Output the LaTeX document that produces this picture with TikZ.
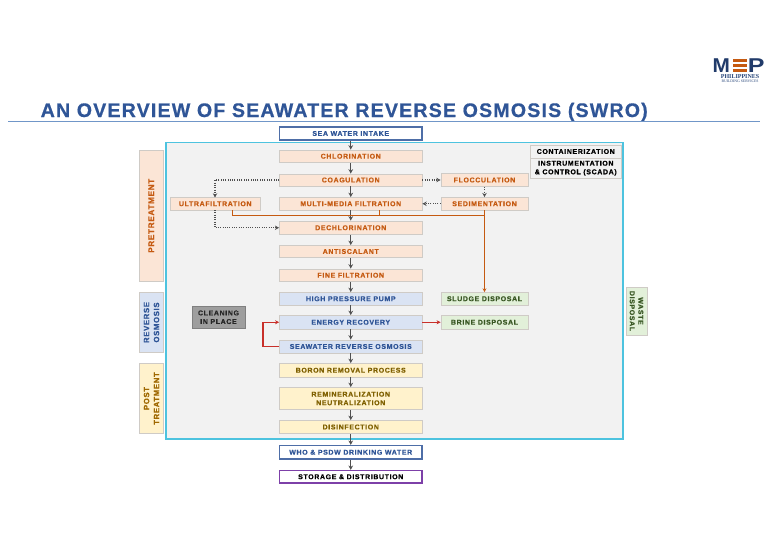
\documentclass[tikz,border=0pt]{standalone}
\usepackage{fontspec}
\setmainfont{Liberation Sans}
\newfontfamily\boxfont[LetterSpace=9,BoldFeatures={FakeBold=0.6}]{Liberation Sans}
\newfontfamily\titlefont[LetterSpace=6,BoldFeatures={FakeBold=0.6}]{Liberation Sans}
\newfontfamily\logofont{Liberation Serif}
\usetikzlibrary{arrows.meta,calc}
\definecolor{cOrange}{HTML}{C55A11}
\definecolor{cBlue}{HTML}{2F5597}
\definecolor{cGold}{HTML}{7F6000}
\definecolor{cGreen}{HTML}{385723}
\definecolor{cPurple}{HTML}{7D40A8}
\definecolor{cRule}{HTML}{7096C8}
\definecolor{fOrange}{HTML}{FBE5D6}
\definecolor{fBlue}{HTML}{DAE3F3}
\definecolor{fGold}{HTML}{FFF2CC}
\definecolor{fGreen}{HTML}{E2F0D9}
\definecolor{edgeG}{HTML}{CFCBC6}
\definecolor{cyanB}{HTML}{4DC3DF}
\definecolor{panel}{HTML}{F2F2F2}
\definecolor{arrowG}{HTML}{505050}
\definecolor{redL}{HTML}{C8302A}
\tikzset{
  box/.style={draw=edgeG,line width=0.8pt,inner sep=0pt,align=center,
    font=\boxfont\bfseries\fontsize{7}{8.6}\selectfont},
  orangebox/.style={box,fill=fOrange,text=cOrange},
  bluebox/.style={box,fill=fBlue,text=cBlue},
  goldbox/.style={box,fill=fGold,text=cGold},
  greenbox/.style={box,fill=fGreen,text=cGreen},
  plainbox/.style={box,fill=panel,text=black},
  graybox/.style={box,fill=black!38,draw=black!50,text=black!85},
  bluewhite/.style={box,fill=white,draw=cBlue!85,line width=1.2pt,text=cBlue},
  purplewhite/.style={box,fill=white,draw=cPurple,line width=1.2pt,text=black},
  stagebig/.style={font=\boxfont\bfseries\fontsize{8.1}{10}\selectfont},
  stagemid/.style={font=\boxfont\bfseries\fontsize{7.7}{10}\selectfont},
  flow/.style={draw=arrowG,line width=1.4pt,-{Stealth[length=4.4pt,width=4.6pt]}},
  dots/.style={draw=arrowG,line width=1.1pt,dash pattern=on 1pt off 1.3pt},
  dotarrow/.style={dots,-{Stealth[length=4.2pt,width=4.4pt]}},
  orangeline/.style={draw=cOrange,line width=1pt},
  orangearrow/.style={orangeline,-{Stealth[length=3.8pt,width=3.8pt]}},
  redarrow/.style={draw=redL,line width=1.2pt,-{Stealth[length=4pt,width=4pt]}},
  logoM/.style={text=cBlue!70!black,font=\bfseries\fontsize{20}{20}\selectfont,inner sep=0pt},
  logoT/.style={text=cBlue!80!black,inner sep=0pt},
  titlestyle/.style={text=cBlue,inner sep=0pt,anchor=base west,font=\titlefont\bfseries\fontsize{19.6}{21}\selectfont},
}
% name, x1, y1, x2, y2, style, text
\newcommand{\bx}[7]{%
  \node[#6,minimum width=#4pt-#2pt,minimum height=#5pt-#3pt] (#1) at ({(#2+#4)/2},{(#3+#5)/2}) {#7};}
\begin{document}
\begin{tikzpicture}[x=1pt,y=-1pt]
\useasboundingbox (0,0) rectangle (768,543);
\fill[white] (0,0) rectangle (768,543);
% title
\node[titlestyle] (title) at (40.5,117) {AN OVERVIEW OF SEAWATER REVERSE OSMOSIS (SWRO)};
\coordinate (ruleL) at (8,121);
\coordinate (ruleR) at (760,121);
\draw[cRule,line width=1pt] (ruleL) -- (ruleR);
% logo
\node[logoM,anchor=base west,xscale=1.04] (logoem) at (712.5,72.5) {M};
\fill[cOrange] (733,59) rectangle (747,62);
\fill[cOrange] (733,64) rectangle (747,67);
\fill[cOrange] (733,69) rectangle (747,72);
\node[logoM,anchor=base west,xscale=1.25] (logopee) at (747.5,72.5) {P};
\node[logoT,font=\logofont\bfseries\fontsize{6}{6}\selectfont] (logophil) at (740,76.8) {PHILIPPINES};
\node[logoT,font=\logofont\fontsize{3.8}{3.8}\selectfont] (logosub) at (740,81) {BUILDING SERVICES};
% panel
\node[draw=cyanB,fill=panel,line width=1.4pt,inner sep=0pt,minimum width=457pt,minimum height=296.5pt] (panelbox) at (394.5,290.75) {};
% centre column
\bx{intake}{279.5}{127}{422}{140}{bluewhite}{SEA WATER INTAKE}
\bx{chlor}{279.5}{150}{422}{162.5}{orangebox}{CHLORINATION}
\bx{coag}{279.5}{174}{422}{186}{orangebox}{COAGULATION}
\bx{mmf}{279.5}{197.5}{422}{210}{orangebox}{MULTI-MEDIA FILTRATION}
\bx{dechl}{279.5}{221}{422}{234.5}{orangebox}{DECHLORINATION}
\bx{antis}{279.5}{245.5}{422}{257.5}{orangebox}{ANTISCALANT}
\bx{fine}{279.5}{269}{422}{281.5}{orangebox}{FINE FILTRATION}
\bx{hpp}{279.5}{292.5}{422}{305}{bluebox}{HIGH PRESSURE PUMP}
\bx{energy}{279.5}{315.5}{422}{329}{bluebox}{ENERGY RECOVERY}
\bx{swro}{279.5}{340}{422}{353}{bluebox}{SEAWATER REVERSE OSMOSIS}
\bx{boron}{279.5}{363.5}{422}{377}{goldbox}{BORON REMOVAL PROCESS}
\bx{remin}{279.5}{387.5}{422}{409.5}{goldbox}{REMINERALIZATION\\NEUTRALIZATION}
\bx{disinf}{279.5}{420.5}{422}{433.5}{goldbox}{DISINFECTION}
\bx{who}{279.5}{445.5}{422}{459}{bluewhite}{WHO \& PSDW DRINKING WATER}
\bx{store}{279.5}{470.5}{422}{483}{purplewhite}{STORAGE \& DISTRIBUTION}
% side boxes
\bx{ultra}{170}{197.5}{260.5}{210}{orangebox}{ULTRAFILTRATION}
\bx{floc}{441}{173.5}{528}{186.5}{orangebox}{FLOCCULATION}
\bx{sedi}{441}{197.5}{528}{210}{orangebox}{SEDIMENTATION}
\bx{sludge}{441}{292.5}{528}{305}{greenbox}{SLUDGE DISPOSAL}
\bx{brine}{441}{315.5}{528}{329}{greenbox}{BRINE DISPOSAL}
\bx{contain}{530}{145}{621.5}{158}{plainbox}{CONTAINERIZATION}
\bx{instr}{530}{158}{621.5}{178.5}{plainbox}{INSTRUMENTATION\\\& CONTROL (SCADA)}
\bx{clean}{192}{306.5}{245}{328}{graybox}{CLEANING\\IN PLACE}
% stage labels
\node[orangebox,stagebig,rotate=90,minimum width=131.5pt,minimum height=23.5pt] (pre) at (151.25,215.75) {PRETREATMENT};
\node[bluebox,stagemid,rotate=90,minimum width=60pt,minimum height=24pt] (ro) at (151.5,322.5) {REVERSE\\OSMOSIS};
\node[goldbox,stagemid,text=cGold!75!orange,rotate=90,minimum width=70pt,minimum height=24pt] (post) at (151.5,398.5) {POST\\TREATMENT};
\node[greenbox,rotate=270,minimum width=48pt,minimum height=21pt] (waste) at (636.5,311) {WASTE\\DISPOSAL};
% main flow
\foreach \a/\b in {intake/chlor,chlor/coag,coag/mmf,mmf/dechl,dechl/antis,antis/fine,fine/hpp,hpp/energy,energy/swro,swro/boron,boron/remin,remin/disinf,disinf/who,who/store}
  \draw[flow] (\a) -- (\b);
% dotted branches
\coordinate (ultraIn) at (215,197.5);
\coordinate (ultraOut) at (215,210);
\draw[dotarrow] (coag.west) -| (ultraIn);
\draw[dotarrow] (ultraOut) |- (dechl.west);
\draw[dotarrow] (coag.east) -- (floc.west);
\draw[dotarrow] (floc.south) -- (sedi.north);
\draw[dotarrow] (sedi.west) -- (mmf.east);
% sludge lines
\coordinate (ultraS) at (232,210);
\coordinate (mmfS) at (379,210);
\coordinate (sludgeBus) at (484.5,215);
\draw[orangeline] (ultraS) |- (sludgeBus);
\draw[orangeline] (mmfS) -- (mmfS |- sludgeBus);
\draw[orangearrow] (sedi.south) -- (sludge.north);
% red lines
\coordinate (redBend) at (263,334);
\draw[redarrow] (swro.west) -| (redBend) |- (energy.west);
\draw[redarrow] (energy.east) -- (brine.west);
\end{tikzpicture}
\end{document}
